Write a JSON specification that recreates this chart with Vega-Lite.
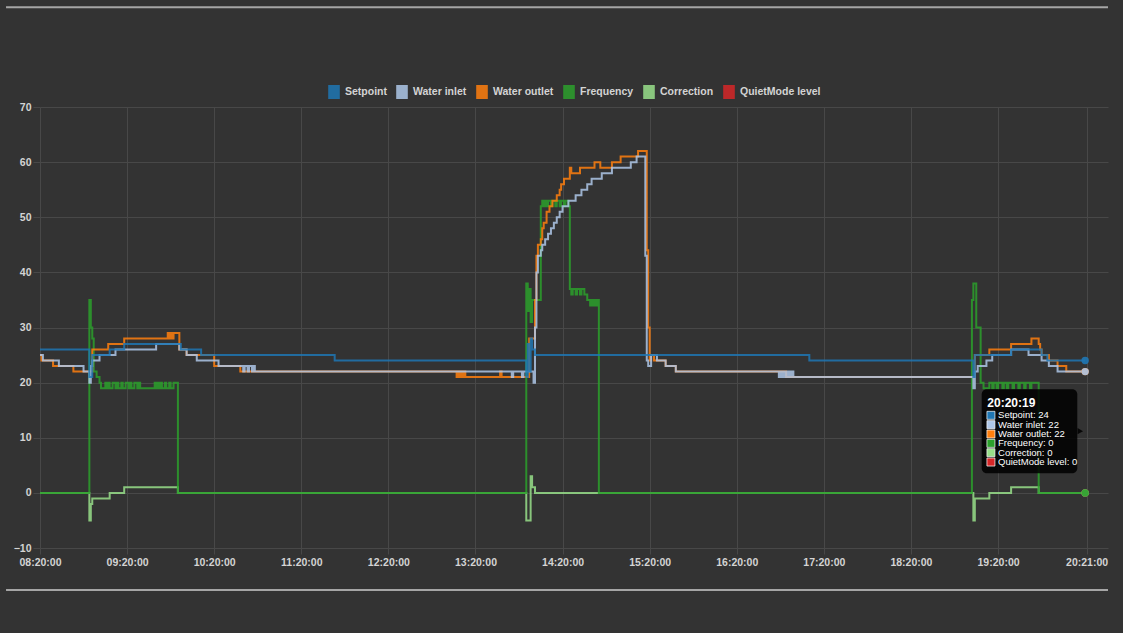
{
  "$schema": "https://vega.github.io/schema/vega-lite/v6.json",
  "autosize": "none",
  "width": 1068,
  "height": 441,
  "padding": {"left": 40, "top": 107, "right": 15, "bottom": 85},
  "background": "#333333",
  "config": {
    "view": {"stroke": null},
    "font": "Liberation Sans",
    "axis": {
      "gridColor": "#484848",
      "gridWidth": 1,
      "tickColor": "#484848",
      "domain": false,
      "labelColor": "#d4d4d4",
      "labelFont": "Liberation Sans",
      "labelFontSize": 10.5,
      "labelFontWeight": "bold",
      "title": null
    },
    "axisX": {"tickSize": 6, "labelPadding": 3, "labelFlush": false, "labelOverlap": false},
    "axisY": {"tickSize": 7, "labelPadding": 2}
  },
  "datasets": {
    "tip": [
      {"row": 0, "s": "Setpoint", "label": "Setpoint: 24"},
      {"row": 1, "s": "Water inlet", "label": "Water inlet: 22"},
      {"row": 2, "s": "Water outlet", "label": "Water outlet: 22"},
      {"row": 3, "s": "Frequency", "label": "Frequency: 0"},
      {"row": 4, "s": "Correction", "label": "Correction: 0"},
      {"row": 5, "s": "QuietMode level", "label": "QuietMode level: 0"}
    ]
  },
  "layer": [
    {
      "data": {
        "format": {"parse": {"t": "date:'%H:%M'"}},
        "values": [
          {"s": "QuietMode level", "t": "20:19", "v": 0},
          {"s": "QuietMode level", "t": "20:20", "v": 0},

          {"s": "Correction", "t": "08:20", "v": 0},
          {"s": "Correction", "t": "08:54", "v": -5},
          {"s": "Correction", "t": "08:55", "v": -2},
          {"s": "Correction", "t": "08:56", "v": -1},
          {"s": "Correction", "t": "09:08", "v": 0},
          {"s": "Correction", "t": "09:18", "v": 1},
          {"s": "Correction", "t": "09:55", "v": 0},
          {"s": "Correction", "t": "13:55", "v": -5},
          {"s": "Correction", "t": "13:58", "v": 3},
          {"s": "Correction", "t": "13:59", "v": 1},
          {"s": "Correction", "t": "14:01", "v": 0},
          {"s": "Correction", "t": "19:03", "v": -5},
          {"s": "Correction", "t": "19:04", "v": -1},
          {"s": "Correction", "t": "19:14", "v": 0},
          {"s": "Correction", "t": "19:29", "v": 1},
          {"s": "Correction", "t": "19:48", "v": 0},
          {"s": "Correction", "t": "20:20", "v": 0},

          {"s": "Frequency", "t": "08:20", "v": 0},
          {"s": "Frequency", "t": "08:54", "v": 35},
          {"s": "Frequency", "t": "08:55", "v": 30},
          {"s": "Frequency", "t": "08:56", "v": 28},
          {"s": "Frequency", "t": "08:57", "v": 22},
          {"s": "Frequency", "t": "08:59", "v": 21},
          {"s": "Frequency", "t": "09:01", "v": 20},
          {"s": "Frequency", "t": "09:02", "v": 19},
          {"s": "Frequency", "t": "09:05", "v": 20},
          {"s": "Frequency", "t": "09:06", "v": 19},
          {"s": "Frequency", "t": "09:07", "v": 20},
          {"s": "Frequency", "t": "09:08", "v": 19},
          {"s": "Frequency", "t": "09:10", "v": 20},
          {"s": "Frequency", "t": "09:12", "v": 19},
          {"s": "Frequency", "t": "09:13", "v": 20},
          {"s": "Frequency", "t": "09:14", "v": 19},
          {"s": "Frequency", "t": "09:16", "v": 20},
          {"s": "Frequency", "t": "09:17", "v": 19},
          {"s": "Frequency", "t": "09:19", "v": 20},
          {"s": "Frequency", "t": "09:21", "v": 19},
          {"s": "Frequency", "t": "09:22", "v": 20},
          {"s": "Frequency", "t": "09:23", "v": 19},
          {"s": "Frequency", "t": "09:25", "v": 20},
          {"s": "Frequency", "t": "09:27", "v": 19},
          {"s": "Frequency", "t": "09:28", "v": 20},
          {"s": "Frequency", "t": "09:29", "v": 19},
          {"s": "Frequency", "t": "09:39", "v": 20},
          {"s": "Frequency", "t": "09:40", "v": 19},
          {"s": "Frequency", "t": "09:41", "v": 20},
          {"s": "Frequency", "t": "09:42", "v": 19},
          {"s": "Frequency", "t": "09:43", "v": 20},
          {"s": "Frequency", "t": "09:44", "v": 19},
          {"s": "Frequency", "t": "09:46", "v": 20},
          {"s": "Frequency", "t": "09:47", "v": 19},
          {"s": "Frequency", "t": "09:49", "v": 20},
          {"s": "Frequency", "t": "09:50", "v": 19},
          {"s": "Frequency", "t": "09:52", "v": 20},
          {"s": "Frequency", "t": "09:55", "v": 0},
          {"s": "Frequency", "t": "13:55", "v": 38},
          {"s": "Frequency", "t": "13:56", "v": 33},
          {"s": "Frequency", "t": "13:57", "v": 37},
          {"s": "Frequency", "t": "13:58", "v": 31},
          {"s": "Frequency", "t": "13:59", "v": 35},
          {"s": "Frequency", "t": "14:05", "v": 52},
          {"s": "Frequency", "t": "14:06", "v": 53},
          {"s": "Frequency", "t": "14:07", "v": 52},
          {"s": "Frequency", "t": "14:08", "v": 53},
          {"s": "Frequency", "t": "14:09", "v": 52},
          {"s": "Frequency", "t": "14:10", "v": 53},
          {"s": "Frequency", "t": "14:12", "v": 52},
          {"s": "Frequency", "t": "14:13", "v": 53},
          {"s": "Frequency", "t": "14:15", "v": 52},
          {"s": "Frequency", "t": "14:16", "v": 53},
          {"s": "Frequency", "t": "14:18", "v": 52},
          {"s": "Frequency", "t": "14:19", "v": 53},
          {"s": "Frequency", "t": "14:21", "v": 52},
          {"s": "Frequency", "t": "14:22", "v": 53},
          {"s": "Frequency", "t": "14:24", "v": 52},
          {"s": "Frequency", "t": "14:25", "v": 37},
          {"s": "Frequency", "t": "14:26", "v": 36},
          {"s": "Frequency", "t": "14:27", "v": 37},
          {"s": "Frequency", "t": "14:29", "v": 36},
          {"s": "Frequency", "t": "14:30", "v": 37},
          {"s": "Frequency", "t": "14:32", "v": 36},
          {"s": "Frequency", "t": "14:33", "v": 37},
          {"s": "Frequency", "t": "14:35", "v": 36},
          {"s": "Frequency", "t": "14:37", "v": 35},
          {"s": "Frequency", "t": "14:39", "v": 34},
          {"s": "Frequency", "t": "14:40", "v": 35},
          {"s": "Frequency", "t": "14:41", "v": 34},
          {"s": "Frequency", "t": "14:42", "v": 35},
          {"s": "Frequency", "t": "14:43", "v": 34},
          {"s": "Frequency", "t": "14:44", "v": 35},
          {"s": "Frequency", "t": "14:45", "v": 0},
          {"s": "Frequency", "t": "19:02", "v": 35},
          {"s": "Frequency", "t": "19:03", "v": 38},
          {"s": "Frequency", "t": "19:05", "v": 30},
          {"s": "Frequency", "t": "19:08", "v": 20},
          {"s": "Frequency", "t": "19:10", "v": 19},
          {"s": "Frequency", "t": "19:14", "v": 20},
          {"s": "Frequency", "t": "19:16", "v": 19},
          {"s": "Frequency", "t": "19:17", "v": 20},
          {"s": "Frequency", "t": "19:19", "v": 19},
          {"s": "Frequency", "t": "19:20", "v": 20},
          {"s": "Frequency", "t": "19:23", "v": 19},
          {"s": "Frequency", "t": "19:24", "v": 20},
          {"s": "Frequency", "t": "19:26", "v": 19},
          {"s": "Frequency", "t": "19:27", "v": 20},
          {"s": "Frequency", "t": "19:30", "v": 19},
          {"s": "Frequency", "t": "19:31", "v": 20},
          {"s": "Frequency", "t": "19:34", "v": 19},
          {"s": "Frequency", "t": "19:35", "v": 20},
          {"s": "Frequency", "t": "19:38", "v": 19},
          {"s": "Frequency", "t": "19:39", "v": 20},
          {"s": "Frequency", "t": "19:42", "v": 19},
          {"s": "Frequency", "t": "19:43", "v": 20},
          {"s": "Frequency", "t": "19:48", "v": 0},
          {"s": "Frequency", "t": "20:20", "v": 0},

          {"s": "Water outlet", "t": "08:20", "v": 25},
          {"s": "Water outlet", "t": "08:21", "v": 24},
          {"s": "Water outlet", "t": "08:29", "v": 23},
          {"s": "Water outlet", "t": "08:43", "v": 22},
          {"s": "Water outlet", "t": "08:56", "v": 26},
          {"s": "Water outlet", "t": "09:07", "v": 27},
          {"s": "Water outlet", "t": "09:18", "v": 28},
          {"s": "Water outlet", "t": "09:48", "v": 29},
          {"s": "Water outlet", "t": "09:49", "v": 28},
          {"s": "Water outlet", "t": "09:50", "v": 29},
          {"s": "Water outlet", "t": "09:51", "v": 28},
          {"s": "Water outlet", "t": "09:52", "v": 29},
          {"s": "Water outlet", "t": "09:56", "v": 26},
          {"s": "Water outlet", "t": "10:01", "v": 25},
          {"s": "Water outlet", "t": "10:20", "v": 23},
          {"s": "Water outlet", "t": "10:38", "v": 22},
          {"s": "Water outlet", "t": "13:07", "v": 21},
          {"s": "Water outlet", "t": "13:08", "v": 22},
          {"s": "Water outlet", "t": "13:09", "v": 21},
          {"s": "Water outlet", "t": "13:10", "v": 22},
          {"s": "Water outlet", "t": "13:11", "v": 21},
          {"s": "Water outlet", "t": "13:12", "v": 22},
          {"s": "Water outlet", "t": "13:13", "v": 21},
          {"s": "Water outlet", "t": "13:37", "v": 22},
          {"s": "Water outlet", "t": "13:38", "v": 21},
          {"s": "Water outlet", "t": "13:57", "v": 28},
          {"s": "Water outlet", "t": "14:01", "v": 35},
          {"s": "Water outlet", "t": "14:02", "v": 43},
          {"s": "Water outlet", "t": "14:03", "v": 45},
          {"s": "Water outlet", "t": "14:05", "v": 46},
          {"s": "Water outlet", "t": "14:06", "v": 48},
          {"s": "Water outlet", "t": "14:07", "v": 49},
          {"s": "Water outlet", "t": "14:09", "v": 51},
          {"s": "Water outlet", "t": "14:11", "v": 52},
          {"s": "Water outlet", "t": "14:13", "v": 53},
          {"s": "Water outlet", "t": "14:16", "v": 54},
          {"s": "Water outlet", "t": "14:18", "v": 55},
          {"s": "Water outlet", "t": "14:19", "v": 56},
          {"s": "Water outlet", "t": "14:21", "v": 57},
          {"s": "Water outlet", "t": "14:25", "v": 59},
          {"s": "Water outlet", "t": "14:26", "v": 58},
          {"s": "Water outlet", "t": "14:32", "v": 59},
          {"s": "Water outlet", "t": "14:42", "v": 60},
          {"s": "Water outlet", "t": "14:46", "v": 59},
          {"s": "Water outlet", "t": "14:54", "v": 60},
          {"s": "Water outlet", "t": "15:00", "v": 61},
          {"s": "Water outlet", "t": "15:12", "v": 62},
          {"s": "Water outlet", "t": "15:18", "v": 44},
          {"s": "Water outlet", "t": "15:19", "v": 30},
          {"s": "Water outlet", "t": "15:20", "v": 24},
          {"s": "Water outlet", "t": "15:21", "v": 25},
          {"s": "Water outlet", "t": "15:23", "v": 24},
          {"s": "Water outlet", "t": "15:31", "v": 23},
          {"s": "Water outlet", "t": "15:38", "v": 22},
          {"s": "Water outlet", "t": "16:54", "v": 21},
          {"s": "Water outlet", "t": "19:04", "v": 25},
          {"s": "Water outlet", "t": "19:14", "v": 26},
          {"s": "Water outlet", "t": "19:29", "v": 27},
          {"s": "Water outlet", "t": "19:43", "v": 28},
          {"s": "Water outlet", "t": "19:48", "v": 27},
          {"s": "Water outlet", "t": "19:49", "v": 26},
          {"s": "Water outlet", "t": "19:50", "v": 25},
          {"s": "Water outlet", "t": "19:55", "v": 24},
          {"s": "Water outlet", "t": "20:01", "v": 23},
          {"s": "Water outlet", "t": "20:07", "v": 22},
          {"s": "Water outlet", "t": "20:20", "v": 22},

          {"s": "Water inlet", "t": "08:20", "v": 25},
          {"s": "Water inlet", "t": "08:22", "v": 24},
          {"s": "Water inlet", "t": "08:33", "v": 23},
          {"s": "Water inlet", "t": "08:50", "v": 22},
          {"s": "Water inlet", "t": "08:54", "v": 20},
          {"s": "Water inlet", "t": "08:55", "v": 23},
          {"s": "Water inlet", "t": "08:56", "v": 24},
          {"s": "Water inlet", "t": "09:01", "v": 25},
          {"s": "Water inlet", "t": "09:12", "v": 26},
          {"s": "Water inlet", "t": "09:40", "v": 27},
          {"s": "Water inlet", "t": "09:56", "v": 26},
          {"s": "Water inlet", "t": "10:01", "v": 25},
          {"s": "Water inlet", "t": "10:08", "v": 24},
          {"s": "Water inlet", "t": "10:23", "v": 23},
          {"s": "Water inlet", "t": "10:40", "v": 22},
          {"s": "Water inlet", "t": "10:41", "v": 23},
          {"s": "Water inlet", "t": "10:43", "v": 22},
          {"s": "Water inlet", "t": "10:44", "v": 23},
          {"s": "Water inlet", "t": "10:46", "v": 22},
          {"s": "Water inlet", "t": "10:47", "v": 23},
          {"s": "Water inlet", "t": "10:48", "v": 22},
          {"s": "Water inlet", "t": "13:45", "v": 21},
          {"s": "Water inlet", "t": "13:46", "v": 22},
          {"s": "Water inlet", "t": "13:52", "v": 21},
          {"s": "Water inlet", "t": "13:53", "v": 22},
          {"s": "Water inlet", "t": "14:00", "v": 20},
          {"s": "Water inlet", "t": "14:01", "v": 30},
          {"s": "Water inlet", "t": "14:02", "v": 40},
          {"s": "Water inlet", "t": "14:03", "v": 43},
          {"s": "Water inlet", "t": "14:05", "v": 44},
          {"s": "Water inlet", "t": "14:06", "v": 45},
          {"s": "Water inlet", "t": "14:08", "v": 46},
          {"s": "Water inlet", "t": "14:10", "v": 47},
          {"s": "Water inlet", "t": "14:12", "v": 48},
          {"s": "Water inlet", "t": "14:14", "v": 49},
          {"s": "Water inlet", "t": "14:16", "v": 50},
          {"s": "Water inlet", "t": "14:18", "v": 51},
          {"s": "Water inlet", "t": "14:20", "v": 52},
          {"s": "Water inlet", "t": "14:24", "v": 53},
          {"s": "Water inlet", "t": "14:29", "v": 54},
          {"s": "Water inlet", "t": "14:33", "v": 55},
          {"s": "Water inlet", "t": "14:37", "v": 56},
          {"s": "Water inlet", "t": "14:40", "v": 57},
          {"s": "Water inlet", "t": "14:47", "v": 58},
          {"s": "Water inlet", "t": "14:54", "v": 59},
          {"s": "Water inlet", "t": "15:07", "v": 60},
          {"s": "Water inlet", "t": "15:11", "v": 61},
          {"s": "Water inlet", "t": "15:17", "v": 43},
          {"s": "Water inlet", "t": "15:18", "v": 24},
          {"s": "Water inlet", "t": "15:19", "v": 23},
          {"s": "Water inlet", "t": "15:21", "v": 25},
          {"s": "Water inlet", "t": "15:25", "v": 24},
          {"s": "Water inlet", "t": "15:31", "v": 23},
          {"s": "Water inlet", "t": "15:38", "v": 22},
          {"s": "Water inlet", "t": "16:49", "v": 21},
          {"s": "Water inlet", "t": "16:50", "v": 22},
          {"s": "Water inlet", "t": "16:51", "v": 21},
          {"s": "Water inlet", "t": "16:52", "v": 22},
          {"s": "Water inlet", "t": "16:53", "v": 21},
          {"s": "Water inlet", "t": "16:54", "v": 22},
          {"s": "Water inlet", "t": "16:55", "v": 21},
          {"s": "Water inlet", "t": "16:56", "v": 22},
          {"s": "Water inlet", "t": "16:57", "v": 21},
          {"s": "Water inlet", "t": "16:58", "v": 22},
          {"s": "Water inlet", "t": "16:59", "v": 21},
          {"s": "Water inlet", "t": "19:03", "v": 19},
          {"s": "Water inlet", "t": "19:04", "v": 22},
          {"s": "Water inlet", "t": "19:06", "v": 23},
          {"s": "Water inlet", "t": "19:12", "v": 24},
          {"s": "Water inlet", "t": "19:16", "v": 25},
          {"s": "Water inlet", "t": "19:29", "v": 26},
          {"s": "Water inlet", "t": "19:41", "v": 25},
          {"s": "Water inlet", "t": "19:50", "v": 24},
          {"s": "Water inlet", "t": "19:55", "v": 23},
          {"s": "Water inlet", "t": "20:01", "v": 22},
          {"s": "Water inlet", "t": "20:20", "v": 22},

          {"s": "Setpoint", "t": "08:20", "v": 26},
          {"s": "Setpoint", "t": "08:54", "v": 21},
          {"s": "Setpoint", "t": "08:56", "v": 25},
          {"s": "Setpoint", "t": "09:08", "v": 26},
          {"s": "Setpoint", "t": "09:18", "v": 27},
          {"s": "Setpoint", "t": "09:57", "v": 26},
          {"s": "Setpoint", "t": "10:11", "v": 25},
          {"s": "Setpoint", "t": "11:43", "v": 24},
          {"s": "Setpoint", "t": "13:55", "v": 21},
          {"s": "Setpoint", "t": "13:56", "v": 27},
          {"s": "Setpoint", "t": "13:57", "v": 22},
          {"s": "Setpoint", "t": "13:58", "v": 28},
          {"s": "Setpoint", "t": "13:59", "v": 26},
          {"s": "Setpoint", "t": "14:01", "v": 25},
          {"s": "Setpoint", "t": "17:10", "v": 24},
          {"s": "Setpoint", "t": "19:03", "v": 21},
          {"s": "Setpoint", "t": "19:04", "v": 25},
          {"s": "Setpoint", "t": "19:29", "v": 26},
          {"s": "Setpoint", "t": "19:50", "v": 25},
          {"s": "Setpoint", "t": "19:54", "v": 24},
          {"s": "Setpoint", "t": "20:20", "v": 24}
        ]
      },
      "encoding": {
        "x": {
          "field": "t",
          "type": "temporal",
          "scale": {
            "domain": [
              {"year": 1900, "month": 1, "date": 1, "hours": 8, "minutes": 20},
              {"year": 1900, "month": 1, "date": 1, "hours": 20, "minutes": 35, "seconds": 45}
            ],
            "nice": false
          },
          "axis": {
            "format": "%H:%M:%S",
            "values": [
              {"year": 1900, "month": 1, "date": 1, "hours": 8, "minutes": 20},
              {"year": 1900, "month": 1, "date": 1, "hours": 9, "minutes": 20},
              {"year": 1900, "month": 1, "date": 1, "hours": 10, "minutes": 20},
              {"year": 1900, "month": 1, "date": 1, "hours": 11, "minutes": 20},
              {"year": 1900, "month": 1, "date": 1, "hours": 12, "minutes": 20},
              {"year": 1900, "month": 1, "date": 1, "hours": 13, "minutes": 20},
              {"year": 1900, "month": 1, "date": 1, "hours": 14, "minutes": 20},
              {"year": 1900, "month": 1, "date": 1, "hours": 15, "minutes": 20},
              {"year": 1900, "month": 1, "date": 1, "hours": 16, "minutes": 20},
              {"year": 1900, "month": 1, "date": 1, "hours": 17, "minutes": 20},
              {"year": 1900, "month": 1, "date": 1, "hours": 18, "minutes": 20},
              {"year": 1900, "month": 1, "date": 1, "hours": 19, "minutes": 20},
              {"year": 1900, "month": 1, "date": 1, "hours": 20, "minutes": 21}
            ]
          }
        },
        "y": {
          "field": "v",
          "type": "quantitative",
          "scale": {"domain": [-10, 70], "nice": false, "zero": false},
          "axis": {"values": [-10, 0, 10, 20, 30, 40, 50, 60, 70]}
        }
      },
      "layer": [
        {
          "mark": {"type": "line", "interpolate": "step-after", "strokeWidth": 2, "opacity": 0.85},
          "encoding": {
            "color": {
              "field": "s",
              "type": "nominal",
              "scale": {
                "domain": ["Setpoint", "Water inlet", "Water outlet", "Frequency", "Correction", "QuietMode level"],
                "range": ["#1f77b4", "#aec7e8", "#ff7f0e", "#2ca02c", "#98df8a", "#d62728"]
              },
              "legend": {
                "orient": "none",
                "legendX": 287,
                "legendY": -22,
                "direction": "horizontal",
                "title": null,
                "symbolType": "M-0.8,-1H0.8V1H-0.8Z",
                "symbolSize": 144,
                "symbolStrokeWidth": 2,
                "labelColor": "#d4d4d4",
                "labelFont": "Liberation Sans",
                "labelFontSize": 10.5,
                "labelFontWeight": "bold",
                "labelOffset": 4,
                "columnPadding": 6,
                "encode": {
                  "symbols": {
                    "update": {
                      "fill": {"signal": "'rgba(' + rgb(scale('color', datum.value)).r + ',' + rgb(scale('color', datum.value)).g + ',' + rgb(scale('color', datum.value)).b + ',0.22)'"},
                      "opacity": {"value": 1}
                    }
                  }
                }
              }
            }
          }
        },
        {
          "transform": [{"filter": "hours(datum.t) == 20 && minutes(datum.t) == 20"}],
          "mark": {"type": "circle", "size": 55, "opacity": 0.9},
          "encoding": {
            "fill": {
              "field": "s",
              "type": "nominal",
              "scale": {
                "domain": ["Setpoint", "Water inlet", "Water outlet", "Frequency", "Correction", "QuietMode level"],
                "range": ["#1f77b4", "#aec7e8", "#ff7f0e", "#2ca02c", "#98df8a", "#d62728"]
              },
              "legend": null
            }
          }
        }
      ]
    },
    {
      "data": {"values": [{}]},
      "layer": [
        {
          "mark": {"type": "rule", "color": "#a6a6a6", "strokeWidth": 2},
          "encoding": {
            "x": {"datum": {"year": 1900, "month": 1, "date": 1, "hours": 7, "minutes": 56, "seconds": 36}, "type": "temporal"},
            "x2": {"datum": {"year": 1900, "month": 1, "date": 1, "hours": 20, "minutes": 35, "seconds": 45}},
            "y": {"datum": 88.1, "type": "quantitative", "scale": {"domain": [-10, 70], "nice": false, "zero": false}, "axis": null}
          }
        },
        {
          "mark": {"type": "rule", "color": "#a6a6a6", "strokeWidth": 2},
          "encoding": {
            "x": {"datum": {"year": 1900, "month": 1, "date": 1, "hours": 7, "minutes": 56, "seconds": 36}, "type": "temporal"},
            "x2": {"datum": {"year": 1900, "month": 1, "date": 1, "hours": 20, "minutes": 35, "seconds": 45}},
            "y": {"datum": -17.6, "type": "quantitative"}
          }
        }
      ]
    },
    {
      "layer": [
        {
          "data": {"values": [{}]},
          "mark": {"type": "rect", "color": "#000000", "opacity": 0.85, "cornerRadius": 5},
          "encoding": {
            "x": {"datum": {"year": 1900, "month": 1, "date": 1, "hours": 19, "minutes": 8, "seconds": 44}, "type": "temporal"},
            "x2": {"datum": {"year": 1900, "month": 1, "date": 1, "hours": 20, "minutes": 14, "seconds": 36}},
            "y": {"datum": -2.8, "type": "quantitative", "scale": {"domain": [-33, 14.2], "reverse": true, "nice": false, "zero": false}, "axis": null},
            "y2": {"datum": 6.2}
          }
        },
        {
          "data": {"values": [{}]},
          "mark": {"type": "point", "shape": "triangle-right", "filled": true, "color": "#000000", "opacity": 0.85, "size": 40},
          "encoding": {
            "x": {"datum": {"year": 1900, "month": 1, "date": 1, "hours": 20, "minutes": 16, "seconds": 40}, "type": "temporal"},
            "y": {"datum": 1.7, "type": "quantitative"}
          }
        },
        {
          "data": {"values": [{}]},
          "mark": {"type": "text", "text": "20:20:19", "align": "left", "baseline": "middle", "color": "#ffffff", "fontSize": 12, "fontWeight": "bold", "font": "Liberation Sans"},
          "encoding": {
            "x": {"datum": {"year": 1900, "month": 1, "date": 1, "hours": 19, "minutes": 12, "seconds": 36}, "type": "temporal"},
            "y": {"datum": -1.35, "type": "quantitative"}
          }
        },
        {
          "data": {"name": "tip"},
          "mark": {"type": "square", "size": 64, "opacity": 1, "stroke": "#ffffff", "strokeWidth": 0.7},
          "encoding": {
            "x": {"datum": {"year": 1900, "month": 1, "date": 1, "hours": 19, "minutes": 15, "seconds": 6}, "type": "temporal"},
            "y": {"field": "row", "type": "quantitative"},
            "fill": {
              "field": "s",
              "type": "nominal",
              "scale": {
                "domain": ["Setpoint", "Water inlet", "Water outlet", "Frequency", "Correction", "QuietMode level"],
                "range": ["#1f77b4", "#aec7e8", "#ff7f0e", "#2ca02c", "#98df8a", "#d62728"]
              },
              "legend": null
            }
          }
        },
        {
          "data": {"name": "tip"},
          "mark": {"type": "text", "align": "left", "baseline": "middle", "color": "#ffffff", "fontSize": 9.5, "font": "Liberation Sans"},
          "encoding": {
            "x": {"datum": {"year": 1900, "month": 1, "date": 1, "hours": 19, "minutes": 20, "seconds": 0}, "type": "temporal"},
            "y": {"field": "row", "type": "quantitative"},
            "text": {"field": "label"}
          }
        }
      ]
    }
  ],
  "resolve": {"scale": {"y": "independent"}}
}
